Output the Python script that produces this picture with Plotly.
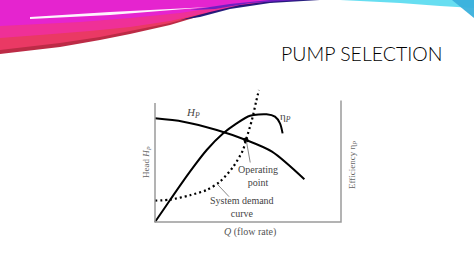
import plotly.graph_objects as go

W, H = 474, 266

# ---- data (normalised flow Q and head/efficiency) ----
head_q = [0.0, 0.152, 0.332, 0.489, 0.629, 0.803]
head_h = [0.871, 0.843, 0.773, 0.689, 0.591, 0.359]

eff_q = [0.0, 0.081, 0.188, 0.278, 0.367, 0.439, 0.511, 0.600, 0.645, 0.672, 0.686]
eff_e = [0.0, 0.185, 0.423, 0.605, 0.745, 0.829, 0.893, 0.905, 0.885, 0.829, 0.745]

sys_q = [0.0, 0.081, 0.188, 0.278, 0.349, 0.421, 0.473, 0.489, 0.521, 0.543, 0.559]
sys_h = [0.18, 0.188, 0.225, 0.269, 0.339, 0.465, 0.605, 0.689, 0.857, 1.008, 1.109]

op_q = [0.489]
op_h = [0.689]

# pixel -> paper helpers (for decoration / outside labels)
def PX(x):
    return x / W

def PY(y):
    return 1 - y / H

# plot box: x=0 at 155px, x=1 at 341px ; y=0 at 222px, y=1 at 103px
xr = [-0.02, 1.02]
x_px0, x_scale = 155, 186
y_px0, y_scale = 222, 119
dom_x = [PX(x_px0 + xr[0] * x_scale), PX(x_px0 + xr[1] * x_scale)]
yr = [-0.02, (y_px0 - 80) / y_scale]
dom_y = sorted([PY(y_px0 - yr[0] * y_scale), PY(80)])

fig = go.Figure()

fig.add_trace(go.Scatter(x=head_q, y=head_h, mode="lines",
                         line=dict(color="black", width=2, shape="spline", smoothing=0.8),
                         hoverinfo="skip"))
fig.add_trace(go.Scatter(x=eff_q, y=eff_e, mode="lines",
                         line=dict(color="black", width=2, shape="spline", smoothing=0.8),
                         hoverinfo="skip"))
fig.add_trace(go.Scatter(x=sys_q, y=sys_h, mode="lines",
                         line=dict(color="black", width=2.2, shape="spline", smoothing=0.8,
                                   dash="2px,3px"),
                         cliponaxis=False, hoverinfo="skip"))
fig.add_trace(go.Scatter(x=op_q, y=op_h, mode="markers",
                         marker=dict(color="black", size=5), hoverinfo="skip"))

shapes = []
# frame (left, bottom, right)
shapes.append(dict(type="path", xref="x", yref="y",
                   path="M 0,1.0 L 0,0 L 1,0 L 1,1.02",
                   line=dict(color="#9a9a9a", width=1.5)))
# pointer lines
shapes.append(dict(type="line", xref="x", yref="y", x0=0.512, y0=0.50, x1=0.492, y1=0.675,
                   line=dict(color="#888888", width=1)))
shapes.append(dict(type="line", xref="x", yref="y", x0=0.398, y0=0.213, x1=0.335, y1=0.318,
                   line=dict(color="#888888", width=1)))

# ---- slide decoration (swoosh) ----
def path(pts):
    s = "M %f,%f " % (PX(pts[0][0]), PY(pts[0][1]))
    for p in pts[1:]:
        s += "L %f,%f " % (PX(p[0]), PY(p[1]))
    return s + "Z"

deco = [
    ([(0, 0), (300, 0), (260, 3), (230, 8), (200, 16), (170, 25), (130, 34), (100, 40), (60, 47), (0, 54)], "#b8203c"),
    ([(0, 0), (300, 0), (260, 3), (230, 8), (200, 15), (170, 23), (130, 31), (100, 37), (60, 43), (0, 50)], "#ec3a66"),
    ([(0, 0), (300, 0), (260, 3), (230, 8), (200, 14), (170, 21), (130, 27), (90, 31), (40, 35), (0, 38)], "#ef2f9a"),
    ([(0, 0), (300, 0), (250, 3), (220, 7), (180, 13), (130, 18), (80, 22), (0, 26)], "#e424d2"),
    ([(180, 20), (210, 12), (240, 5), (280, 0), (320, 0), (270, 3), (230, 9), (200, 17)], "#1c1478"),
    ([(190, 10), (230, 4), (270, 0), (300, 0), (250, 3), (215, 9)], "#6a1fc0"),
    ([(30, 17), (110, 12), (210, 7), (110, 15), (30, 19)], "#ffffff"),
    ([(340, 0), (474, 0), (474, 8), (440, 6), (400, 3)], "#5fdcf0"),
    ([(452, 0), (474, 0), (474, 18)], "#3ab0dc"),
]
for pts, col in deco:
    shapes.append(dict(type="path", xref="paper", yref="paper", path=path(pts),
                       fillcolor=col, line=dict(width=0), layer="below",
                       opacity=0.95))

serif = "Liberation Serif"
ann = [
    dict(x=0.204, y=0.92, text="<i>H<sub>P</sub></i>", font=dict(size=11, color="#444")),
    dict(x=0.704, y=0.882, text="η<sub><i>P</i></sub>", font=dict(size=11, color="#444")),
    dict(x=0.554, y=0.39, text="Operating<br>point", font=dict(size=10, color="#444")),
    dict(x=0.466, y=0.124, text="System demand<br>curve", font=dict(size=10, color="#444")),
]
annotations = []
for a in ann:
    a.update(xref="x", yref="y", showarrow=False, xanchor="center", yanchor="middle")
    a["font"]["family"] = serif
    annotations.append(a)

outside = [
    dict(x=PX(250), y=PY(232), text="<i>Q</i> (flow rate)", font=dict(size=10, color="#555")),
    dict(x=PX(146), y=PY(162), text="Head <i>H<sub>P</sub></i>", textangle=-90,
         font=dict(size=9, color="#666")),
    dict(x=PX(352), y=PY(165), text="Efficiency η<sub><i>P</i></sub>", textangle=-90,
         font=dict(size=9, color="#666")),
]
for a in outside:
    a.update(xref="paper", yref="paper", showarrow=False, xanchor="center", yanchor="middle")
    a["font"]["family"] = serif
    annotations.append(a)

annotations.append(dict(xref="paper", yref="paper", x=PX(362), y=PY(53),
                        text="PUMP SELECTION", showarrow=False,
                        xanchor="center", yanchor="middle",
                        font=dict(family="Lato", size=19.5, color="#000", weight=300)))

fig.update_layout(
    width=W, height=H,
    margin=dict(l=0, r=0, t=0, b=0),
    paper_bgcolor="white", plot_bgcolor="white",
    showlegend=False,
    xaxis=dict(domain=dom_x, range=xr, visible=False),
    yaxis=dict(domain=dom_y, range=yr, visible=False),
    shapes=shapes,
    annotations=annotations,
)

fig.write_html("out.html")
